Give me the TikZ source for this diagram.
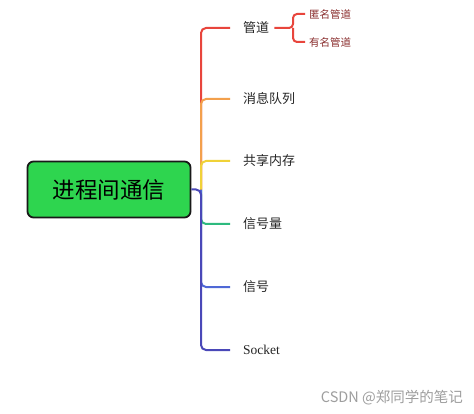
\documentclass[tikz,border=0pt]{standalone}
\usepackage{fontspec}
\setmainfont{Liberation Serif}
\newfontfamily\cjk{Noto Sans CJK SC}
\definecolor{cred}{HTML}{E8453C}
\definecolor{corange}{HTML}{F3A04C}
\definecolor{cyellow}{HTML}{F0D238}
\definecolor{cgreen}{HTML}{2DBA7E}
\definecolor{cblue}{HTML}{4F68D6}
\definecolor{cindigo}{HTML}{4A48B8}
\definecolor{rootfill}{HTML}{2ED54F}
\definecolor{subtext}{HTML}{8A2E2E}
\begin{document}
\begin{tikzpicture}[x=1pt,y=-1pt,
  branch/.style={line width=2pt, rounded corners=5pt},
  lbl/.style={anchor=west, inner sep=0pt, font=\cjk\fontsize{13}{15}\selectfont, text=black!85},
  sublbl/.style={anchor=west, inner sep=0pt, font=\cjk\fontsize{10.5}{12}\selectfont, text=subtext}]
\useasboundingbox (0,0) rectangle (474,414);
\fill[white] (0,0) rectangle (474,414);
\node[draw=black!90, line width=1.8pt, fill=rootfill, rounded corners=6pt, minimum width=163pt, minimum height=56pt, inner sep=0pt, font=\cjk\fontsize{22.5}{26}\selectfont] (root) at (109,189.5) {进程间通信};
\coordinate (j) at (201,189.5);
\node[lbl] (n1) at (243,28) {管道};
\node[lbl] (n2) at (243,99) {消息队列};
\node[lbl] (n3) at (243,161) {共享内存};
\node[lbl] (n4) at (243,224) {信号量};
\node[lbl] (n5) at (243,287) {信号};
\node[lbl, font=\fontsize{13.5}{15}\selectfont] (n6) at (243,350) {Socket};
\node[sublbl] (s1) at (309,14) {匿名管道};
\node[sublbl] (s2) at (309,42) {有名管道};
% lower branches first
\draw[branch, cgreen] (j) |- ([xshift=-13pt]n4.west);
\draw[branch, cblue] (j) |- ([xshift=-13pt]n5.west);
\draw[branch, cindigo] (root.east) -- (j) |- ([xshift=-13pt]n6.west);
% upper branches
\draw[branch, cred] (j) |- ([xshift=-13pt]n1.west);
\draw[branch, corange] (j) |- ([xshift=-13pt]n2.west);
\draw[branch, cyellow] (j) |- ([xshift=-13pt]n3.west);
% sub branches of 管道
\coordinate (b) at (293,28);
\draw[branch, cred, rounded corners=4pt] ([xshift=5pt]n1.east) -- (b) |- ([xshift=-4pt]s1.west);
\draw[branch, cred, rounded corners=4pt] (b) |- ([xshift=-4pt]s2.west);
\node[anchor=east, inner sep=0pt, text=black!38, font=\cjk\fontsize{14.5}{16}\selectfont] (wm) at (463,398) {CSDN @郑同学的笔记};
\end{tikzpicture}
\end{document}
